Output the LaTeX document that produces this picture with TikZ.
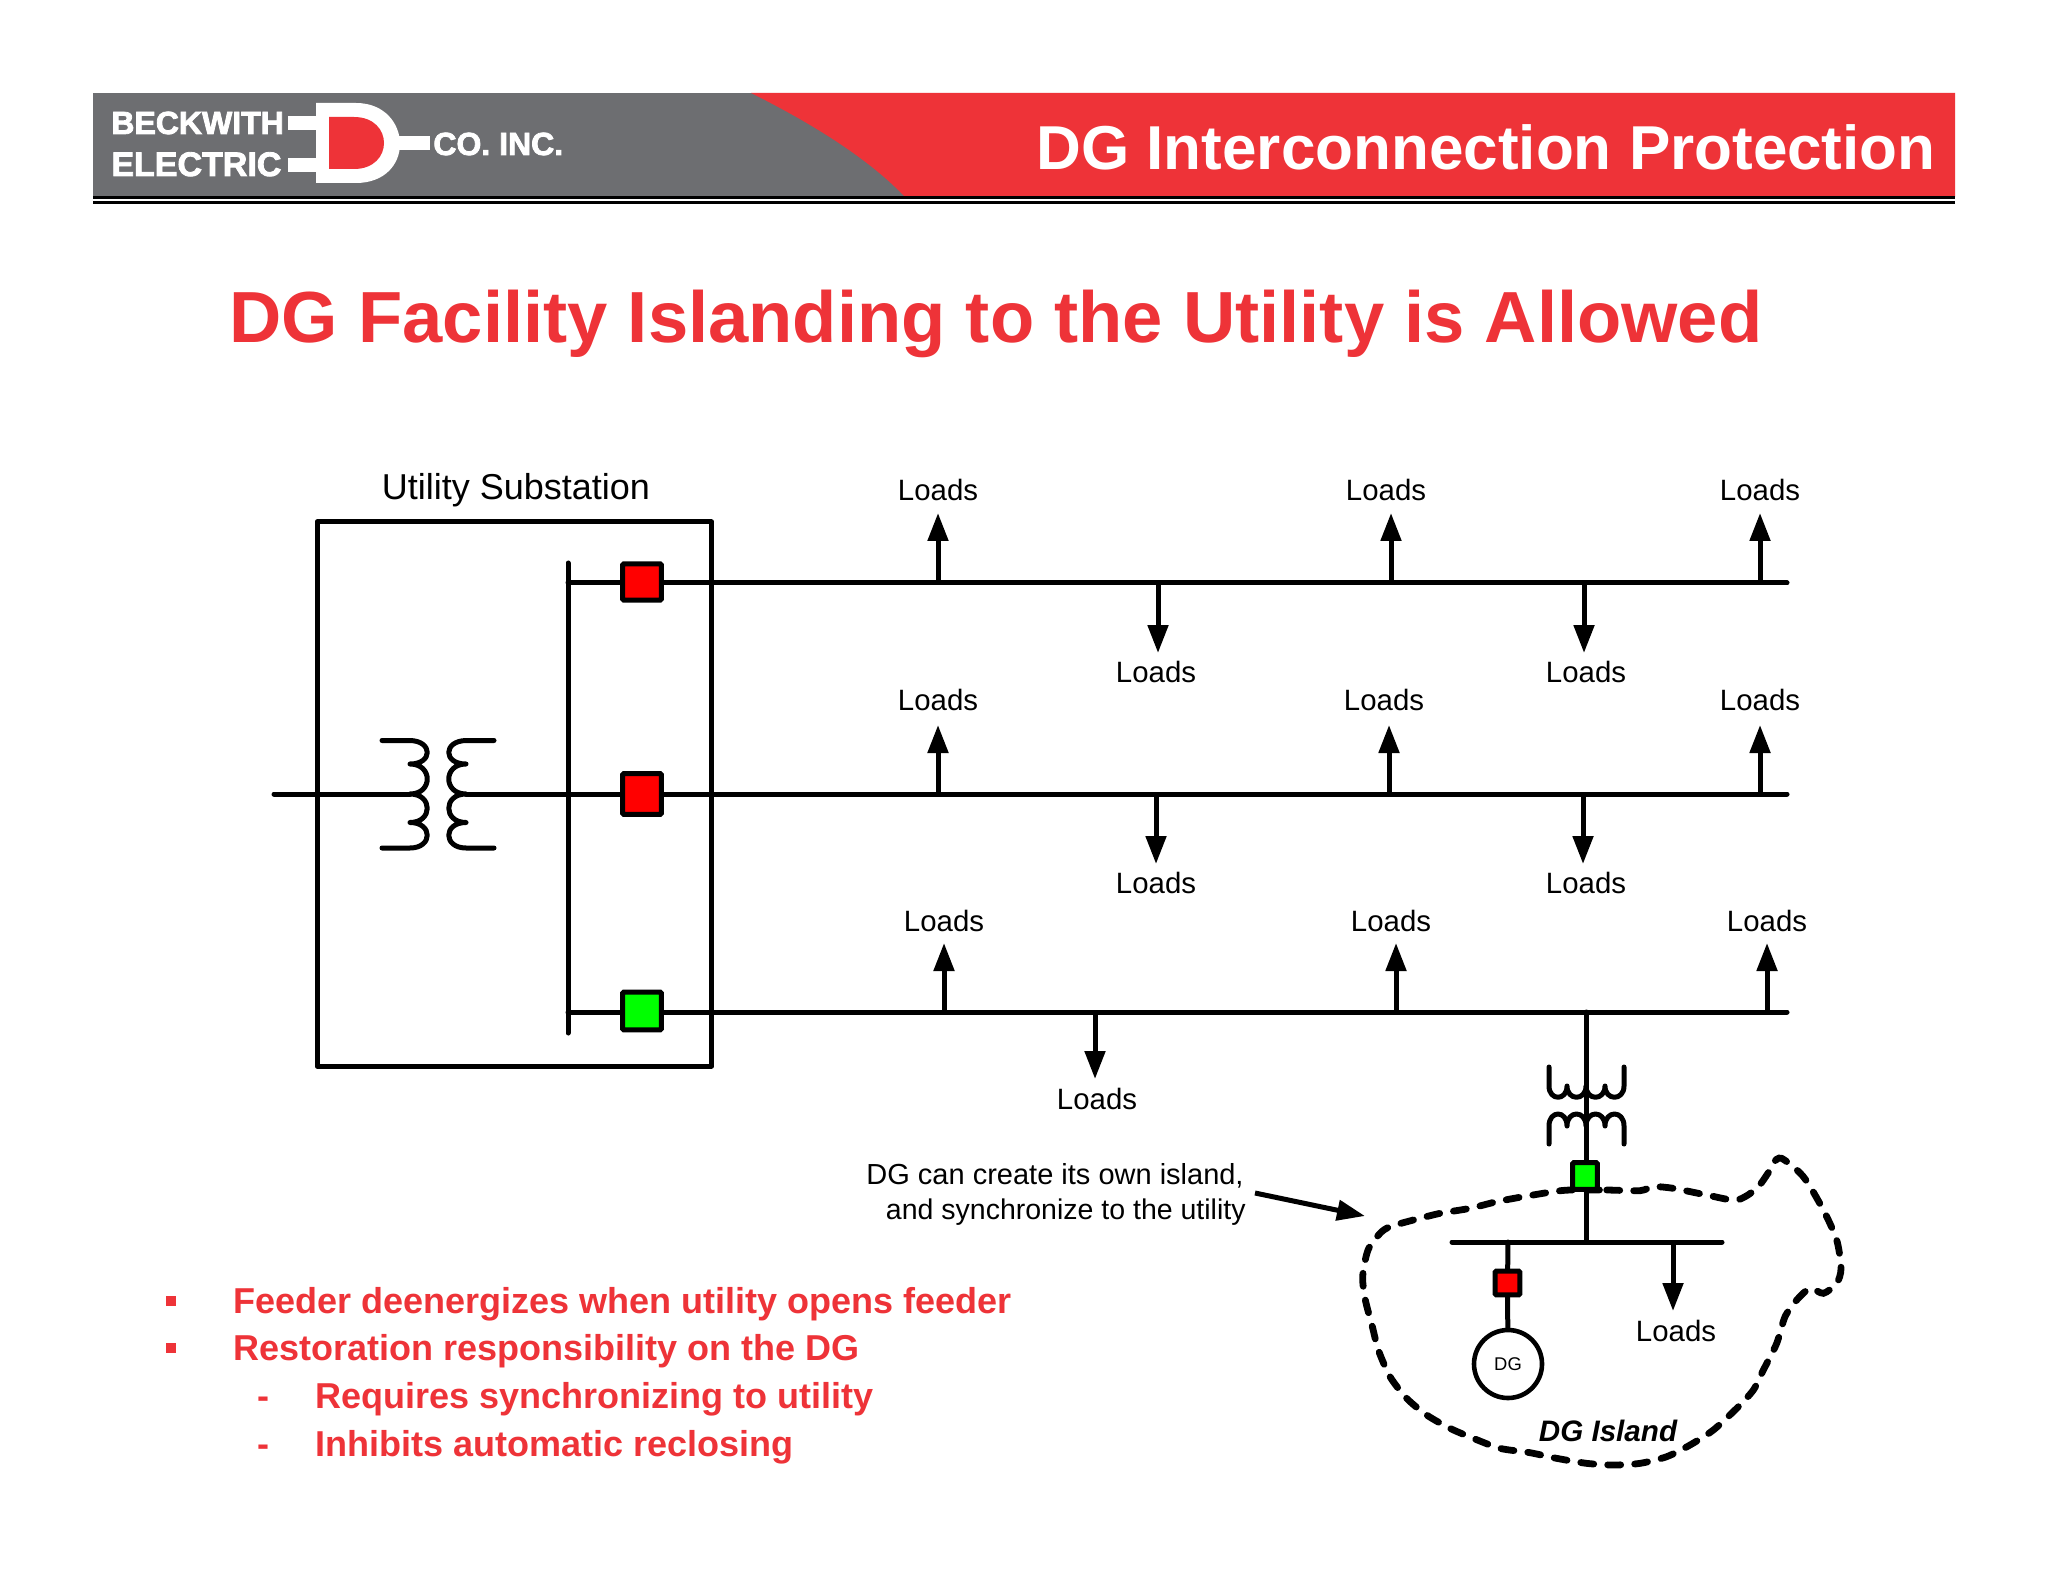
\documentclass[tikz,border=0pt]{standalone}
\usepackage{fontspec}
\setmainfont{Liberation Sans}
\newfontfamily\logofont[FakeBold=2.5]{Liberation Sans Bold}
\usetikzlibrary{arrows.meta}
\definecolor{brandred}{HTML}{EE3338}
\definecolor{brandgray}{HTML}{6D6E71}
\definecolor{brkred}{HTML}{FF0000}
\definecolor{brkgreen}{HTML}{00FF00}
\tikzset{
  wire/.style={line width=2.5pt,line cap=round,line join=round,black},
  coil/.style={line width=2.5pt,line cap=round,line join=round,black},
  loadarrow/.style={line width=2.5pt,-{Triangle[length=14pt,width=10pt]},black},
  loadlbl/.style={inner sep=0pt,font=\fontsize{14.7}{17}\selectfont},
  brk/.style={draw=black,line width=2.5pt,inner sep=0pt,rounded corners=0.5pt},
  redtext/.style={text=brandred,inner sep=0pt,font=\bfseries\fontsize{18}{21}\selectfont,anchor=base west},
  logotext/.style={text=white,inner sep=0pt,font=\logofont\fontsize{16}{18}\selectfont,anchor=base west},
  anno/.style={inner sep=0pt,font=\fontsize{14.5}{17}\selectfont,anchor=base east}
}
\begin{document}
\begin{tikzpicture}[x=0.5pt,y=-0.5pt]
\useasboundingbox (0,0) rectangle (2048,1582);
\fill[white] (0,0) rectangle (2048,1582);
% header band
\fill[brandgray] (93,93) rectangle (1955,197);
\fill[brandred] (751,93) .. controls (815,125) and (870,160) .. (905,197) -- (1955,197) -- (1955,93) -- cycle;
\draw[line width=1.5pt] (93,197.5) -- (1955,197.5);
\draw[line width=1.3pt] (93,202.5) -- (1955,202.5);
% logo
\fill[white] (288,116) rectangle (320,130);
\fill[white] (288,158) rectangle (320,172);
\fill[white] (395,136) rectangle (430,150);
\fill[white] (316,103) -- (356,103) .. controls (385,103) and (400,124) .. (400,144) .. controls (400,164) and (385,183) .. (356,183) -- (316,183) -- cycle;
\fill[brandred] (329,117) -- (354,117) .. controls (374,117) and (384,130) .. (384,143) .. controls (384,156) and (374,169) .. (354,169) -- (329,169) -- cycle;
\node[logotext] (logoa) at (111,134) {BECKWITH};
\node[logotext,font=\logofont\fontsize{17}{18}\selectfont] (logob) at (111,176) {ELECTRIC};
\node[logotext] (logoc) at (433,155) {CO. INC.};
\node[text=white,inner sep=0pt,anchor=base east,font=\bfseries\fontsize{31}{34}\selectfont] (hdr) at (1936,170) {DG Interconnection Protection};
% title
\node[text=brandred,inner sep=0pt,anchor=base,font=\bfseries\fontsize{36.2}{40}\selectfont] (title) at (996,343) {DG Facility Islanding to the Utility is Allowed};
% substation
\node[inner sep=0pt,font=\fontsize{18}{21}\selectfont] (subst) at (516,490) {Utility Substation};
\draw[line width=2.5pt,line join=round] (317,522) rectangle (711.5,1066);
\coordinate (bustop) at (568,563);
\coordinate (busbot) at (568,1033);
\coordinate (inL) at (274,794);
\coordinate (f1e) at (1787,583);
\coordinate (f2e) at (1787,794);
\coordinate (f3e) at (1787,1012);
\coordinate (b1) at (568,583);
\coordinate (b2) at (568,794);
\coordinate (b3) at (568,1012);
\coordinate (xL) at (410,794);
\coordinate (xR) at (466,794);
\draw[wire] (bustop) -- (busbot);
\draw[wire] (inL) -- (xL);
\draw[wire] (xR) -- (f2e);
\draw[wire] (b1) -- (f1e);
\draw[wire] (b3) -- (f3e);
\node[brk,fill=brkred,minimum width=19.3pt,minimum height=18pt] (cb1) at (642,582) {};
\node[brk,fill=brkred,minimum width=19.3pt,minimum height=20.3pt] (cb2) at (642,794) {};
\node[brk,fill=brkgreen,minimum width=19.3pt,minimum height=18.8pt] (cb3) at (642,1011) {};
% substation transformer
\draw[coil] (382,740.5) -- (410,740.5) .. controls (433,741) and (433,764) .. (410,764) .. controls (433,764) and (433,794) .. (410,794) .. controls (433,794) and (433,822.5) .. (410,822.5) .. controls (433,822.5) and (433,848) .. (410,848) -- (382,848);
\draw[coil] (494,740.5) -- (466,740.5) .. controls (443,741) and (443,764) .. (466,764) .. controls (443,764) and (443,794) .. (466,794) .. controls (443,794) and (443,822.5) .. (466,822.5) .. controls (443,822.5) and (443,848) .. (466,848) -- (494,848);
% loads on the feeders
\foreach \n/\x/\fy/\ty/\lx/\ly in {
 a/938/583/513/938/490, b/1391/583/513/1386/490, c/1760/583/513/1760/490,
 d/1158/583/653/1156/672, e/1584/583/653/1586/672,
 f/938/794/725/938/700, g/1389/794/725/1384/700, h/1760/794/725/1760/700,
 i/1156/794/864/1156/883, j/1583/794/864/1586/883,
 k/944/1012/943/944/921, l/1396/1012/943/1391/921, m/1767/1012/943/1767/921,
 n/1095/1012/1079/1097/1099}{
  \coordinate (base\n) at (\x,\fy);
  \coordinate (tip\n) at (\x,\ty);
  \node[loadlbl] (load\n) at (\lx,\ly) {Loads};
  \draw[loadarrow] (base\n) -- (tip\n);
}
% island boundary
\begin{scope}[shift={(1340,1000)},x=0.16667pt,y=-0.16667pt]
\draw[line width=3.4pt,line cap=round,dash pattern=on 6.5pt off 7pt] plot[smooth cycle,tension=0.45] coordinates {
(690,570)(800,570)(900,572)(940,560)(1000,565)(1100,585)(1190,600)(1250,565)(1290,510)(1300,488)(1325,475)(1390,530)(1450,630)(1490,720)(1503,805)(1490,850)(1450,880)(1410,865)(1370,900)(1335,950)(1310,1030)(1270,1110)(1240,1170)(1190,1225)(1120,1290)(1050,1335)(980,1370)(900,1390)(820,1395)(740,1390)(650,1375)(570,1358)(480,1345)(400,1315)(330,1285)(260,1245)(200,1195)(150,1130)(115,1050)(97,980)(76,900)(68,830)(84,750)(120,700)(150,680)(220,660)(300,640)(390,625)(470,605)(550,590)(640,575)};
\end{scope}
% DG branch
\coordinate (tap) at (1586,1012);
\coordinate (dgbusL) at (1452,1242);
\coordinate (dgbusR) at (1722,1242);
\coordinate (dgbusC) at (1586,1242);
\coordinate (dgbusG) at (1508,1242);
\coordinate (dgbusD) at (1673,1242);
\coordinate (dgtip) at (1673,1311);
\draw[wire] (tap) -- (dgbusC);
\draw[wire] (dgbusL) -- (dgbusR);
\draw[coil] (1549,1067) -- (1549,1086) .. controls (1549,1101) and (1567,1101) .. (1567,1086) .. controls (1567,1101) and (1586,1101) .. (1586,1086) .. controls (1586,1101) and (1605,1101) .. (1605,1086) .. controls (1605,1101) and (1624,1101) .. (1624,1086) -- (1624,1067);
\draw[coil] (1549,1144) -- (1549,1126) .. controls (1549,1110) and (1567,1110) .. (1567,1126) .. controls (1567,1110) and (1586,1110) .. (1586,1126) .. controls (1586,1110) and (1605,1110) .. (1605,1126) .. controls (1605,1110) and (1624,1110) .. (1624,1126) -- (1624,1144);
\node[brk,fill=brkgreen,minimum width=12.3pt,minimum height=13.3pt] (cbg) at (1585,1176) {};
\node[brk,fill=brkred,minimum width=12.3pt,minimum height=11.8pt] (cbr) at (1507.5,1283) {};
\node[draw,line width=2.3pt,circle,minimum size=34pt,inner sep=0pt,font=\fontsize{9.2}{11}\selectfont] (dg) at (1508,1364) {DG};
\draw[wire] (dgbusG) -- (cbr);
\draw[wire] (cbr) -- (dg);
\draw[loadarrow] (dgbusD) -- (dgtip);
\node[loadlbl] (loado) at (1676,1331) {Loads};
\node[inner sep=0pt,font=\bfseries\itshape\fontsize{14.8}{17}\selectfont] (island) at (1608,1431) {DG Island};
% annotation
\node[anno] (ann1) at (1244,1184) {DG can create its own island,};
\node[anno,font=\fontsize{14.25}{17}\selectfont] (ann2) at (1246,1219) {and synchronize to the utility};
\coordinate (annS) at (1255,1193);
\coordinate (annE) at (1365,1216);
\draw[line width=2.5pt,-{Triangle[length=14pt,width=10pt]}] (annS) -- (annE);
% bullets
\node[fill=brandred,minimum size=5pt,inner sep=0pt] (bu1) at (171,1301) {};
\node[fill=brandred,minimum size=5pt,inner sep=0pt] (bu2) at (171,1348) {};
\node[redtext] (t1) at (233,1313) {Feeder deenergizes when utility opens feeder};
\node[redtext] (t2) at (233,1360.5) {Restoration responsibility on the DG};
\node[redtext] (d3) at (257,1408.5) {-};
\node[redtext] (t3) at (315,1408.5) {Requires synchronizing to utility};
\node[redtext] (d4) at (257,1456) {-};
\node[redtext] (t4) at (315,1456) {Inhibits automatic reclosing};
\end{tikzpicture}
\end{document}
